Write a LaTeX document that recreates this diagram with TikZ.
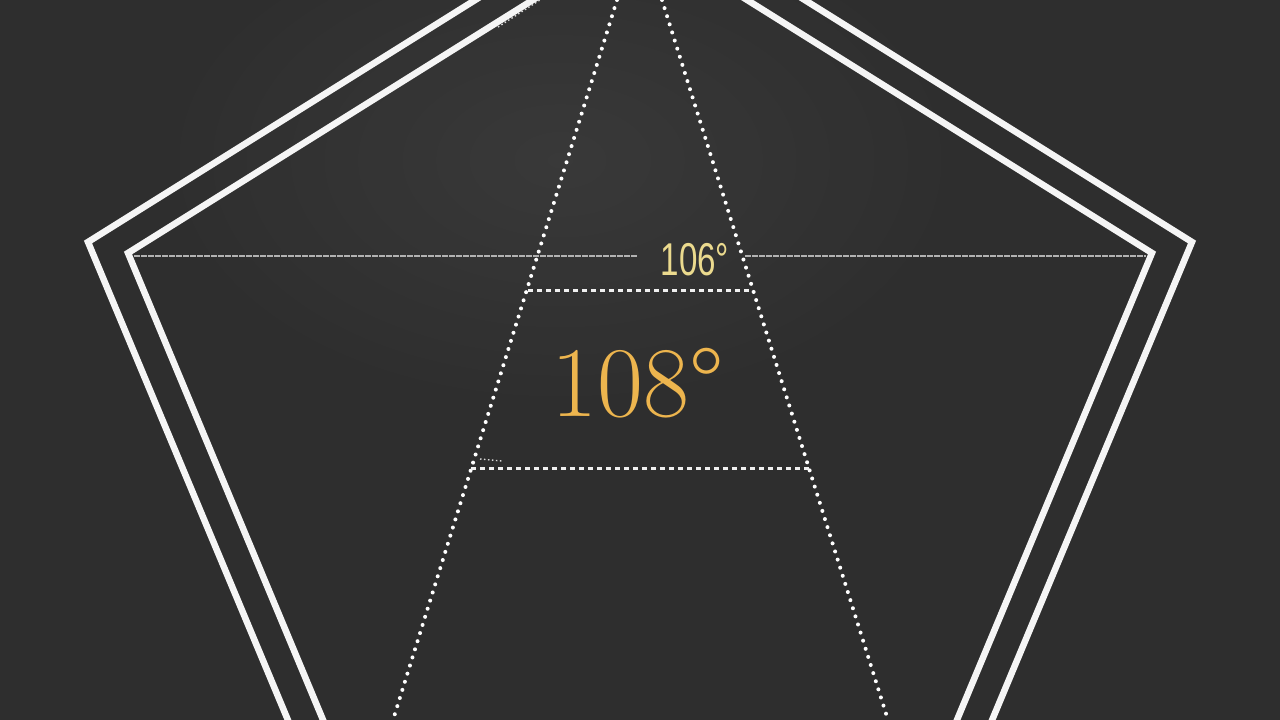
\documentclass[tikz,border=0pt]{standalone}
\usepackage{fontspec}
\setmainfont{Latin Modern Roman}
\newfontfamily\smallsans{Liberation Sans}
\begin{document}
\begin{tikzpicture}[x=1pt,y=-1pt,
  edgeline/.style={draw=white!96!black,line width=6.5pt,line join=miter},
  dotline/.style={draw=white,line width=4pt,line cap=round,dash pattern=on 0pt off 8.5pt},
  dashline/.style={draw=white!94!black,line width=3pt,dash pattern=on 4.5pt off 4.5pt},
  tinydots/.style={draw=white!85!black,line width=1.4pt,dash pattern=on 1.5pt off 2.5pt},
  guideline/.style={draw=white!70!black,line width=1.4pt,dash pattern=on 6pt off 1pt},
  smalllabel/.style={text=smallgold,inner sep=0pt},
  biglabel/.style={text=biggold,inner sep=0pt}]
\definecolor{bg}{HTML}{2E2E2E}
\definecolor{smallgold}{HTML}{EBDA8E}
\definecolor{biggold}{HTML}{EDB54E}
\useasboundingbox (0,0) rectangle (1280,720);
\fill[bg] (0,0) rectangle (1280,720);
\shade[inner color=white!18!bg, outer color=bg, opacity=0.3] (560,160) ellipse (420 and 260);
\clip (0,0) rectangle (1280,720);
% outer pentagon
\coordinate (OT) at (640,-103);
\coordinate (OL) at (88,242);
\coordinate (OR) at (1192,242);
\coordinate (OBR) at (875,1000);
\coordinate (OBL) at (405,1000);
\draw[edgeline] (OT) -- (OR) -- (OBR) -- (OBL) -- (OL) -- cycle;
% inner pentagon
\coordinate (IT) at (640,-67);
\coordinate (IL) at (128,253);
\coordinate (IR) at (1152,253);
\coordinate (IBR) at (840,1000);
\coordinate (IBL) at (440,1000);
\draw[edgeline] (IT) -- (IR) -- (IBR) -- (IBL) -- (IL) -- cycle;
% dotted slanted lines
\coordinate (DL0) at (617,0);
\coordinate (DL1) at (393,720);
\coordinate (DR0) at (662,0);
\coordinate (DR1) at (888,720);
\draw[dotline] (DL0) -- (DL1);
\draw[dotline] (DR0) -- (DR1);
% guide line
\coordinate (GL) at (134,256);
\coordinate (GM) at (637,256);
\coordinate (GN) at (745,256);
\coordinate (GR) at (1146,256);
\draw[guideline] (GL) -- (GM);
\draw[guideline] (GN) -- (GR);
% dashed horizontals
\coordinate (H1a) at (528,290);
\coordinate (H1b) at (750,290);
\coordinate (H2a) at (471,468);
\coordinate (H2b) at (809,468);
\draw[dashline] (H1a) -- (H1b);
\draw[dashline] (H2a) -- (H2b);
% tiny dotted bits
\coordinate (T1a) at (480,459);
\coordinate (T1b) at (502,461);
\draw[tinydots] (T1a) -- (T1b);
\coordinate (T2a) at (498,27);
\coordinate (T2b) at (540,0);
\draw[tinydots] (T2a) -- (T2b);
% labels
\node[smalllabel] (small) at (695,260) {\scalebox{0.72}[1]{\smallsans\fontsize{46}{46}\selectfont 106°}};
\node[biglabel] (big) at (638,383) {\fontsize{100}{100}\selectfont 108°};
\end{tikzpicture}
\end{document}
